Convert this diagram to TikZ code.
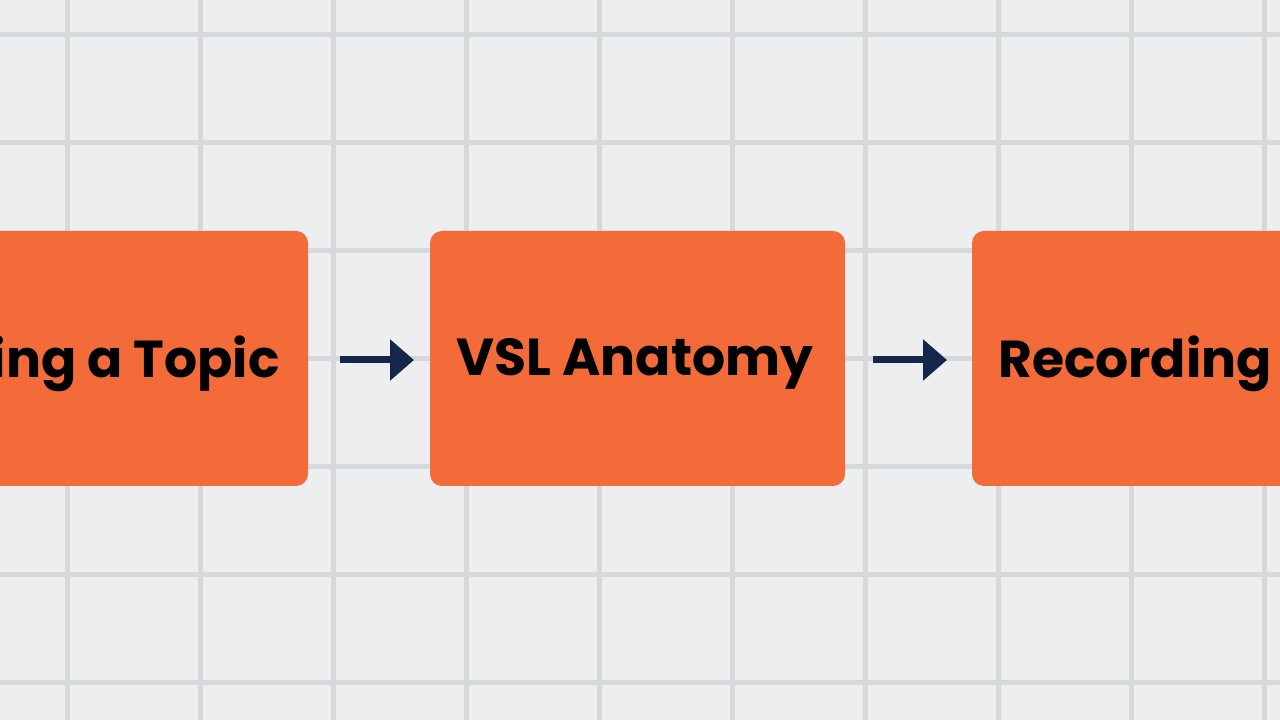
\documentclass[tikz,border=0pt]{standalone}
\usepackage{fontspec}
\setmainfont{Poppins}
\usetikzlibrary{arrows.meta}
\definecolor{bg}{HTML}{ECEEF0}
\definecolor{gridc}{HTML}{D6D9DC}
\definecolor{boxc}{HTML}{F26B38}
\definecolor{navy}{HTML}{16264A}
\tikzset{
  card/.style={fill=boxc, rounded corners=12pt, draw=none},
  lbl/.style={font=\bfseries\fontsize{52}{56}\selectfont, text=black, inner sep=0pt},
  flow/.style={draw=navy, line width=7pt, -{Triangle[length=24pt,width=40pt]}}
}
\begin{document}
\begin{tikzpicture}[x=1pt,y=1pt]
\useasboundingbox (0,0) rectangle (1280,720);
\clip (0,0) rectangle (1280,720);
\fill[bg] (0,0) rectangle (1280,720);
\foreach \x in {67,200,333,466,599,732,865,998,1131,1264}
  \draw[gridc, line width=5pt] (\x,0) -- (\x,720);
\foreach \y in {35,143,251,359,467,575,683}
  \draw[gridc, line width=5pt] (0,720-\y) -- (1280,720-\y);
\fill[card] (-110,234) rectangle (308,489);
\fill[card] (430,234) rectangle (845,489);
\fill[card] (972,234) rectangle (1390,489);
\node[lbl, anchor=east] (t1) at (280,356) {ing a Topic};
\node[lbl] (t2) at (635,356) {VSL Anatomy};
\node[lbl, anchor=west] (t3) at (998,356) {Recording};
\coordinate (a1s) at (340,360); \coordinate (a1e) at (414,360);
\coordinate (a2s) at (873,360); \coordinate (a2e) at (947,360);
\draw[flow] (a1s) -- (a1e);
\draw[flow] (a2s) -- (a2e);
\end{tikzpicture}
\end{document}
